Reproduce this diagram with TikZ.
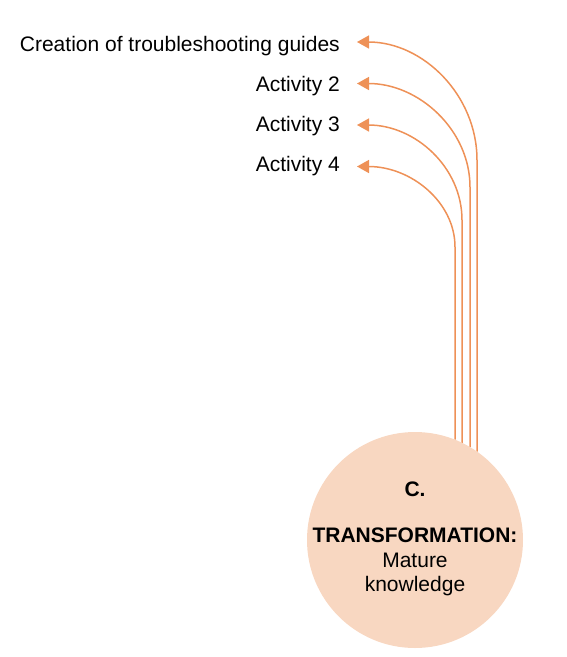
\documentclass[tikz,border=0pt]{standalone}
\usepackage{fontspec}
\setmainfont{Liberation Sans}
\usetikzlibrary{arrows.meta}
\definecolor{lineor}{HTML}{EE9157}
\definecolor{peach}{HTML}{F8D7C1}
\tikzset{
  lbl/.style={anchor=base east,inner sep=0pt,font=\fontsize{21}{24.5}\selectfont},
  conn/.style={draw=lineor,line width=1.5pt,-{Triangle[length=12pt,width=13pt]}},
  bubble/.style={circle,fill=peach,draw=none,minimum size=216pt,inner sep=0pt},
}
\begin{document}
\begin{tikzpicture}[x=1pt,y=-1pt]
\useasboundingbox (0,0) rectangle (566,657);
% labels
\node[lbl] (t1) at (340,51.5) {Creation of troubleshooting guides};
\node[lbl] (t2) at (340,91.5) {Activity 2};
\node[lbl] (t3) at (340,131.5) {Activity 3};
\node[lbl] (t4) at (340,171.5) {Activity 4};
% arrow tips
\coordinate (a1) at (357,42);
\coordinate (a2) at (357,83.5);
\coordinate (a3) at (357,125);
\coordinate (a4) at (357,166.5);
% start points on circle border
\coordinate (s1) at (477,451.6);
\coordinate (s2) at (470,447.1);
\coordinate (s3) at (462,442.8);
\coordinate (s4) at (455,439.7);
% connectors
\draw[conn] (s1) -- (477,160) .. controls (477,95) and (423,42) .. (a1);
\draw[conn] (s2) -- (470,187) .. controls (470,130) and (419,83.5) .. (a2);
\draw[conn] (s3) -- (462,220) .. controls (462,167) and (415,125) .. (a3);
\draw[conn] (s4) -- (455,247) .. controls (455,202) and (411,166.5) .. (a4);
% circle
\node[bubble] (circ) at (415,540) {};
\node[align=center,inner sep=0pt,font=\fontsize{21}{24.5}\selectfont] (ctext) at (415,539)
  {\textbf{C.}\\[21.5pt]\textbf{TRANSFORMATION:}\\Mature\\knowledge};
\end{tikzpicture}
\end{document}
